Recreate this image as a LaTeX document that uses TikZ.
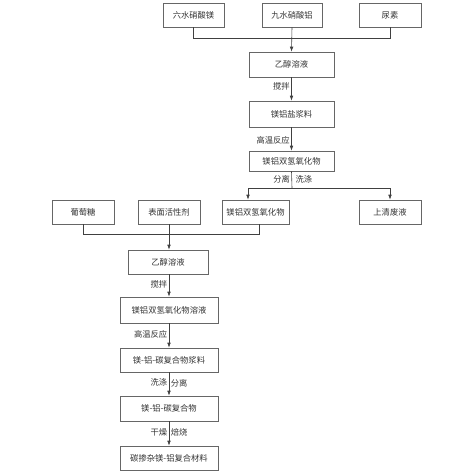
\documentclass[tikz,border=0pt]{standalone}
\usepackage{fontspec}
\setmainfont{Noto Sans CJK SC}
\usetikzlibrary{arrows.meta}
\begin{document}
\begin{tikzpicture}[x=1pt,y=-1pt,
  box/.style={draw=black!60,line width=0.6pt,rectangle,inner sep=0pt,minimum height=24pt,text=black!80,font=\fontsize{8.3}{10}\selectfont},
  conn/.style={draw=black!75,line width=0.6pt},
  arr/.style={conn,-{Latex[length=5pt,width=3.6pt]}},
  lbl/.style={font=\fontsize{8.3}{10}\selectfont,text=black!80,inner sep=1.5pt}]
\useasboundingbox (0,0) rectangle (474,474);
% top row
\node[box,minimum width=61pt] (a1) at (193.5,15) {六水硝酸镁};
\node[box,minimum width=60pt] (a2) at (292,15) {九水硝酸铝};
\node[box,minimum width=62pt] (a3) at (390,15) {尿素};
\node[box,minimum width=85pt,minimum height=25pt] (b1) at (291.5,64.5) {乙醇溶液};
\node[box,minimum width=85pt,minimum height=26pt] (b2) at (291.5,114) {镁铝盐浆料};
\node[box,minimum width=85pt,minimum height=20pt] (b3) at (291.5,161) {镁铝双氢氧化物};
% second row
\node[box,minimum width=62pt] (c1) at (83,212) {葡萄糖};
\node[box,minimum width=62pt] (c2) at (169,212) {表面活性剂};
\node[box,minimum width=67pt] (c3) at (255.5,212) {镁铝双氢氧化物};
\node[box,minimum width=62pt] (c4) at (390,212) {上清废液};
\node[box,minimum width=80pt] (d1) at (168,262) {乙醇溶液};
\node[box,minimum width=98pt,minimum height=26pt] (d2) at (169,310) {镁铝双氢氧化物溶液};
\node[box,minimum width=98pt] (d3) at (169,360) {镁-铝-碳复合物浆料};
\node[box,minimum width=98pt,minimum height=25pt] (d4) at (169,408.5) {镁-铝-碳复合物};
\node[box,minimum width=98pt] (d5) at (169,458) {碳掺杂镁-铝复合材料};
% coordinates
\coordinate (j1) at (292,38);
\coordinate (j2) at (292,188);
\coordinate (j2l) at (248,188);
\coordinate (j3) at (169,234);
% connectors top
\draw[conn] (a1.south) -- (a1.south |- j1) -- (a3.south |- j1) -- (a3.south);
\draw[arr] (a2.south) -- (b1.north);
\draw[arr] (b1.south) -- node[lbl,left,pos=0.4] {搅拌} (b2.north);
\draw[arr] (b2.south) -- node[lbl,left,pos=0.55] {高温反应} (b3.north);
\draw[conn] (b3.south) -- node[lbl,left,pos=0.5] {分离} node[lbl,right,pos=0.5,xshift=2pt] {洗涤} (j2);
\draw[conn] (j2l) -- (c4.north |- j2);
\draw[arr] (j2l) -- (j2l |- c3.north);
\draw[arr] (c4.north |- j2) -- (c4.north);
% second row connectors
\draw[conn] (c1.south) -- (c1.south |- j3) -- (259,234) -- (259,224);
\draw[arr] (c2.south) -- (d1.north -| c2.south);
\draw[arr] (d1.south -| d2.north) -- node[lbl,left,pos=0.45] {搅拌} (d2.north);
\draw[arr] (d2.south) -- node[lbl,left,pos=0.45] {高温反应} (d3.north);
\draw[arr] (d3.south) -- node[lbl,left,pos=0.45] {洗涤} node[lbl,right,pos=0.45] {分离} (d4.north);
\draw[arr] (d4.south) -- node[lbl,left,pos=0.45] {干燥} node[lbl,right,pos=0.45] {焙烧} (d5.north);
\end{tikzpicture}
\end{document}
